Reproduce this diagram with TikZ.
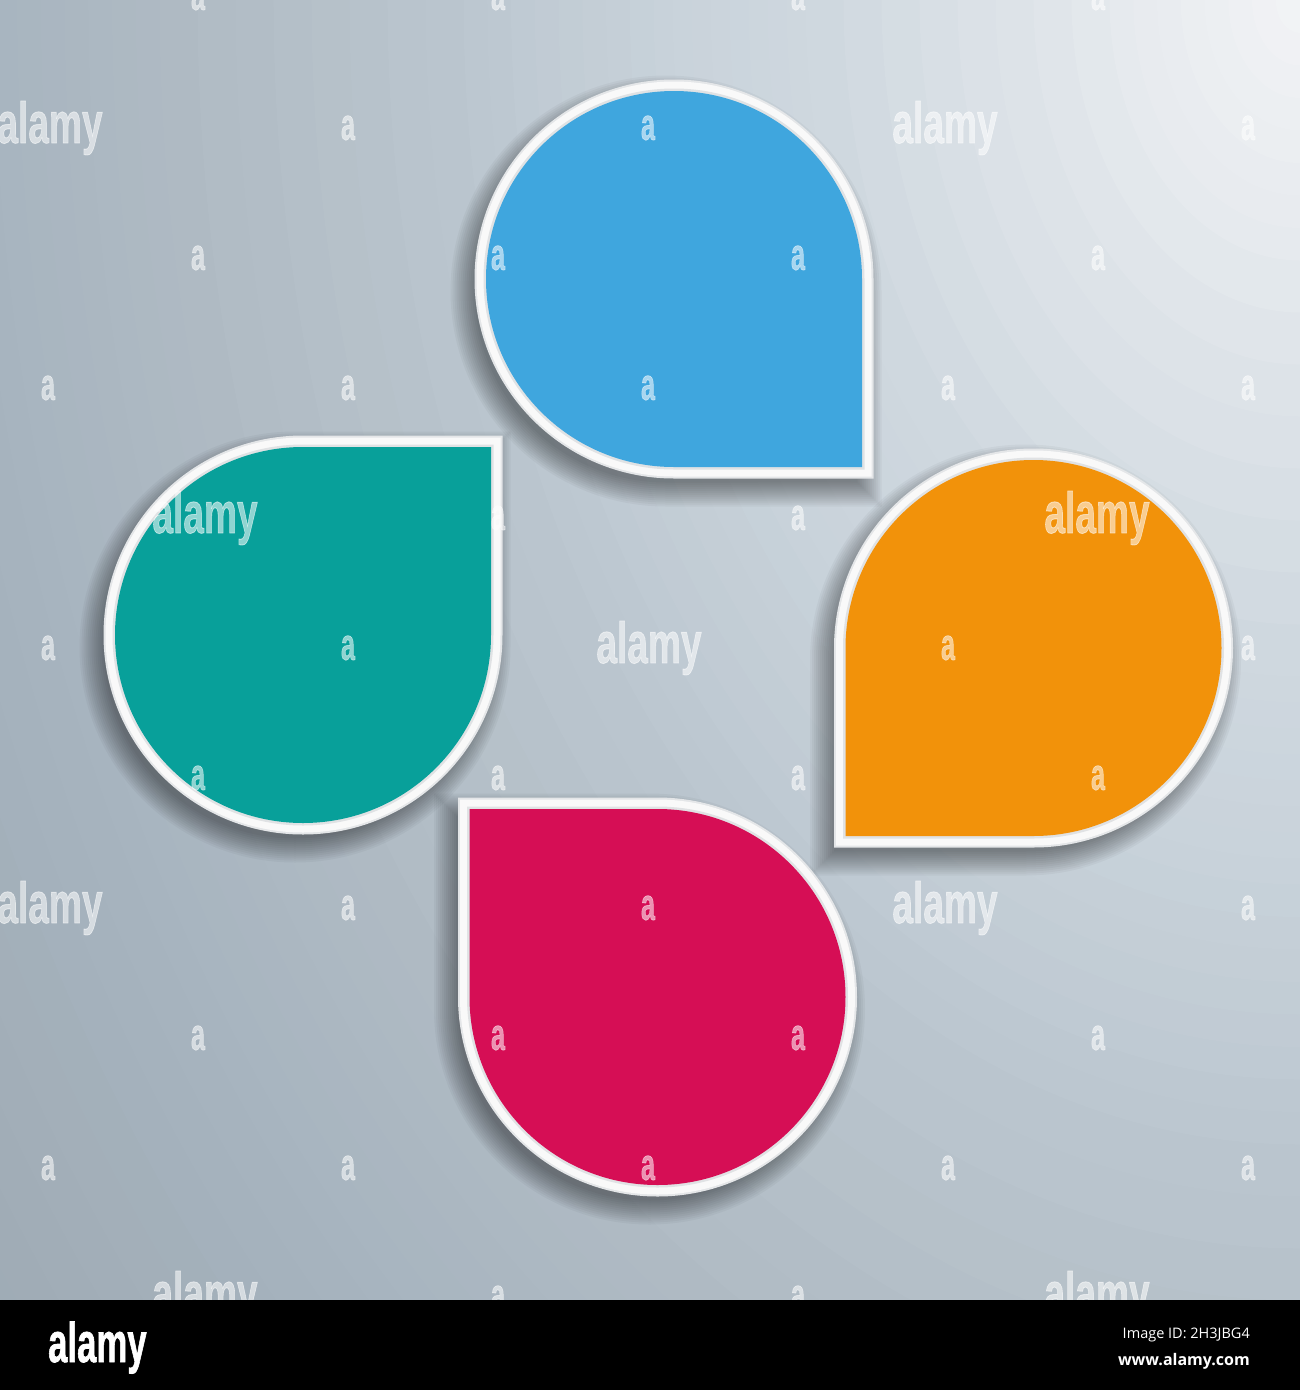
\documentclass[tikz,border=0pt]{standalone}
\usepackage{fontspec}
\usepackage{graphicx}
\newfontfamily\wmfont[FakeBold=1.5]{Liberation Sans}
\newfontfamily\osfont{Open Sans}
\definecolor{bg0}{HTML}{F3F4F6}
\definecolor{bg1}{HTML}{E6EAEE}
\definecolor{bg2}{HTML}{CFD8DF}
\definecolor{bg3}{HTML}{C8D2DA}
\definecolor{bg4}{HTML}{BCC7D0}
\definecolor{bg5}{HTML}{AFBAC3}
\definecolor{bg6}{HTML}{A7B4BF}
\definecolor{bg7}{HTML}{A0ACB6}
\definecolor{bg8}{HTML}{9CA8B2}
\definecolor{cblue}{RGB}{63,166,222}
\definecolor{corange}{RGB}{242,146,10}
\definecolor{cmagenta}{RGB}{214,14,85}
\definecolor{cteal}{RGB}{8,160,154}
\definecolor{rimout}{HTML}{E4E6E8}
\definecolor{rimmid}{HTML}{F9F9F9}
\definecolor{rimin}{HTML}{E0E2E4}
% teardrop: centre x, centre y, radius, direction of the pointed corner
\newcommand\dropshape[4]{(#1,#2) ++({#4-45}:#3) -- ++({#4+45}:#3) -- ++({#4+135}:#3) arc[start angle={#4+45}, end angle={#4+315}, radius=#3] -- cycle}
\tikzset{
  shadowlayer/.style={fill=black, fill opacity=0.037},
  wmsmall/.style={inner sep=0, text=white, text opacity=0.55, font=\wmfont\bfseries\fontsize{45}{45}\selectfont},
  wmbig/.style={inner sep=0, anchor=base, text=white, text opacity=0.55, font=\wmfont\bfseries\fontsize{58}{58}\selectfont},
  bartext/.style={inner sep=0, text=white}
}
\begin{document}
\begin{tikzpicture}[x=1pt,y=-1pt]
\useasboundingbox (0,0) rectangle (1300,1390);
% background: stepped elliptical glow from the top right corner
\begin{scope}
  \clip (0,0) rectangle (1300,1300);
  \fill[bg8] (0,0) rectangle (1300,1300);
  \foreach \ua/\ub/\ca/\cb in {0.84/1.00/bg7/bg8, 0.70/0.84/bg6/bg7, 0.60/0.70/bg5/bg6, 0.44/0.60/bg4/bg5,
                               0.34/0.44/bg3/bg4, 0.26/0.34/bg2/bg3, 0.10/0.26/bg1/bg2, 0.00/0.10/bg0/bg1}{
    \foreach \k in {0,...,7}{
      \pgfmathsetmacro\u{\ub-(\ub-\ua)*\k/8}
      \pgfmathsetmacro\p{100*(1-\k/8)}
      \fill[\cb!\p!\ca] (1300,0) ellipse [x radius={1900*\u+0.5}, y radius={2600*\u+0.5}];
    }
  }
\end{scope}
% soft shadows (stacked translucent layers)
\foreach \cx/\cy/\c in {674/279/45, 1033.5/648/135, 657.5/997/225, 303/635/315}
  \foreach \s in {-8,-6,...,16}
    \path[shadowlayer] \dropshape{\cx-8}{\cy+12}{199.5+\s}{\c};
% teardrops
\foreach \cx/\cy/\c/\col in {674/279/45/cblue, 1033.5/648/135/corange, 657.5/997/225/cmagenta, 303/635/315/cteal}{
  \fill[rimout] \dropshape{\cx}{\cy}{199.5}{\c};
  \fill[rimmid] \dropshape{\cx}{\cy}{197.5}{\c};
  \fill[rimin] \dropshape{\cx}{\cy}{190.5}{\c};
  \fill[\col] \dropshape{\cx}{\cy}{188}{\c};
}
% watermarks
\begin{scope}
  \clip (0,0) rectangle (1300,1300);
  \foreach \x/\y in {348/128, 648/128, 1248/128,
                     48/388, 348/388, 648/388, 948/388, 1248/388,
                     48/648, 348/648, 948/648, 1248/648,
                     348/908, 648/908, 1248/908,
                     48/1168, 348/1168, 648/1168, 948/1168, 1248/1168,
                     198/-2, 498/-2, 798/-2, 1098/-2,
                     198/258, 498/258, 798/258, 1098/258,
                     498/518, 798/518,
                     198/778, 498/778, 798/778, 1098/778,
                     198/1038, 498/1038, 798/1038, 1098/1038,
                     498/1298, 798/1298}
    \node[wmsmall] (wa-\x-\y) at (\x,\y) {\scalebox{0.56}[1]{a}};
  \foreach \x/\y in {50/143, 945/143, 205/533, 1097/533, 649/663, 50/923, 945/923, 205/1313, 1097/1313}
    \node[wmbig] (wb-\x-\y) at (\x,\y) {\scalebox{0.64}[1]{alamy}};
\end{scope}
% bottom bar
\fill[black] (0,1300) rectangle (1300,1390);
\node[bartext, anchor=base west, font=\wmfont\bfseries\fontsize{56}{56}\selectfont] (logo) at (48,1362) {\scalebox{0.62}[1]{alamy}};
\node[bartext, anchor=base east, font=\osfont\fontsize{14.5}{15}\selectfont] (imgid) at (1250,1338) {Image ID: 2H3JBG4};
\node[bartext, anchor=base east, font=\osfont\bfseries\fontsize{16}{17}\selectfont] (url) at (1250,1365) {www.alamy.com};
\end{tikzpicture}
\end{document}
